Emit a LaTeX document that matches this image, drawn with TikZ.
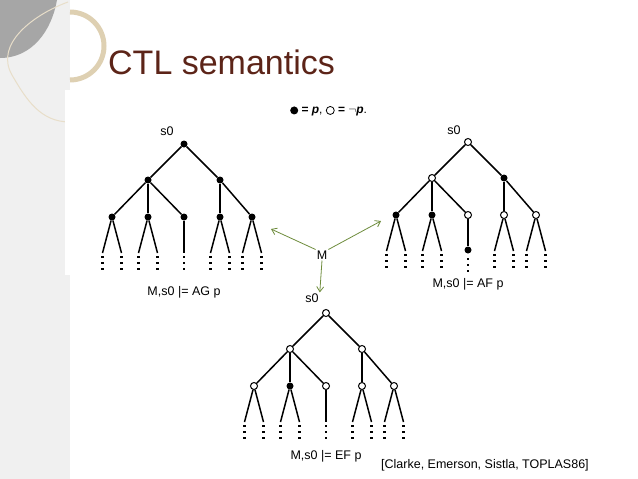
\documentclass[tikz,border=0pt]{standalone}
\usepackage{fontspec}
\setmainfont{Liberation Sans}
\usetikzlibrary{arrows.meta}
\definecolor{titlebrown}{RGB}{92,36,24}
\definecolor{arrowgreen}{RGB}{110,140,60}
\definecolor{ringtan}{RGB}{222,208,178}

% one computation tree: #1 scope options, #2-#9 styles of the eight nodes
\newcommand{\ctltree}[9]{%
\begin{scope}[#1]
\node[#2] (r) at (0,0) {};
\node[#3] (a) at (-36,36) {};
\node[#4] (b) at (36,36) {};
\node[#5] (c) at (-72,73) {};
\node[#6] (d) at (-36,73) {};
\node[#7] (e) at (0,73) {};
\node[#8] (f) at (36,73) {};
\node[#9] (g) at (68,73) {};
\draw[branch] (r) -- (a);
\draw[branch] (r) -- (b);
\draw[branch] (a) -- (c);
\draw[branch] (a) -- (d);
\draw[branch] (a) -- (e);
\draw[branch] (b) -- (f);
\draw[branch] (b) -- (g);
\foreach \k in {c,d,f,g} {
  \coordinate (\k1) at ([xshift=-9.5pt,yshift=-36pt]\k.center);
  \coordinate (\k2) at ([xshift=9.5pt,yshift=-36pt]\k.center);
  \draw[branch] (\k) -- (\k1);
  \draw[branch] (\k) -- (\k2);
  \draw[leafdots] (\k1) ++(0,3) -- ++(0,16);
  \draw[leafdots] (\k2) ++(0,3) -- ++(0,16);
}
\coordinate (e1) at ([yshift=-36pt]e.center);
\end{scope}}

\begin{document}
\begin{tikzpicture}[x=1pt,y=-1pt,
  nf/.style={circle,fill=black,inner sep=0pt,minimum size=7pt},
  no/.style={circle,draw=black,fill=white,line width=1pt,inner sep=0pt,minimum size=7pt},
  branch/.style={line width=1.5pt},
  leafdots/.style={line width=2.2pt,dash pattern=on 2pt off 4pt},
  lbl/.style={font=\fontsize{12.5}{15}\selectfont,inner sep=1pt},
  marrow/.style={arrowgreen,line width=0.8pt,-{Straight Barb[length=5pt,width=7pt]}}]
\useasboundingbox (0,0) rectangle (638,479);
% slide background
\fill[black!6] (0,0) rectangle (70,479);
\fill[black!35] (0,0) -- (57,0) to[out=-100,in=0] (0,58) -- cycle;
\draw[ringtan,line width=5pt] (70,80) arc[start angle=-90,end angle=-270,radius=-34];
\draw[ringtan!70,line width=1pt] (68,2) to[out=200,in=120] (12,75) to[out=-60,in=180] (70,122);
\fill[white] (65,90) rectangle (638,275);
\node[anchor=base west,titlebrown,font=\fontsize{34}{40}\selectfont,inner sep=0pt] (title) at (108,74) {CTL semantics};
\node[anchor=west,inner sep=0pt,font=\fontsize{12}{14}\selectfont] (legend) at (290,111) {\tikz[baseline=-3pt]\fill (0,0) circle (4pt); \textbf{= \textit{p}}, \tikz[baseline=-3pt]\draw[line width=0.8pt] (0,0) circle (4pt); \textbf{= $\neg$\textit{p}}.};
% AG p
\ctltree{shift={(184,144)},name prefix=ag-}{nf}{nf}{nf}{nf}{nf}{nf}{nf}{nf}
\draw[branch] (ag-e) -- (ag-e1);
\draw[leafdots] (ag-e1) ++(0,3) -- ++(0,16);
\node[lbl] (ag-s0) at (167,131) {s0};
\node[lbl] (ag-lab) at (184,292) {M,s0 |= AG p};
% AF p
\ctltree{shift={(468,142)},name prefix=af-}{no}{no}{nf}{nf}{nf}{no}{no}{no}
\node[nf] (af-h) at ([yshift=-35pt]af-e.center) {};
\draw[branch] (af-e) -- (af-h);
\draw[leafdots] (af-h) ++(0,8) -- ++(0,14);
\node[lbl] (af-s0) at (454,130) {s0};
\node[lbl] (af-lab) at (468,284) {M,s0 |= AF p};
% EF p
\ctltree{shift={(326,313)},name prefix=ef-}{no}{no}{no}{no}{nf}{no}{no}{no}
\draw[branch] (ef-e) -- (ef-e1);
\draw[leafdots] (ef-e1) ++(0,3) -- ++(0,16);
\node[lbl] (ef-s0) at (312,298) {s0};
\node[lbl] (ef-lab) at (326,456) {M,s0 |= EF p};
% model
\node[lbl] (m) at (322,255) {M};
\coordinate (m-ag) at (271,229);
\coordinate (m-af) at (381,221);
\draw[marrow] (m.north west) -- (m-ag);
\draw[marrow] (m.north east) -- (m-af);
\draw[marrow] (m.south) -- (ef-s0.north east);
\node[lbl,anchor=west] (cite) at (380,465) {[Clarke, Emerson, Sistla, TOPLAS86]};
\end{tikzpicture}
\end{document}
